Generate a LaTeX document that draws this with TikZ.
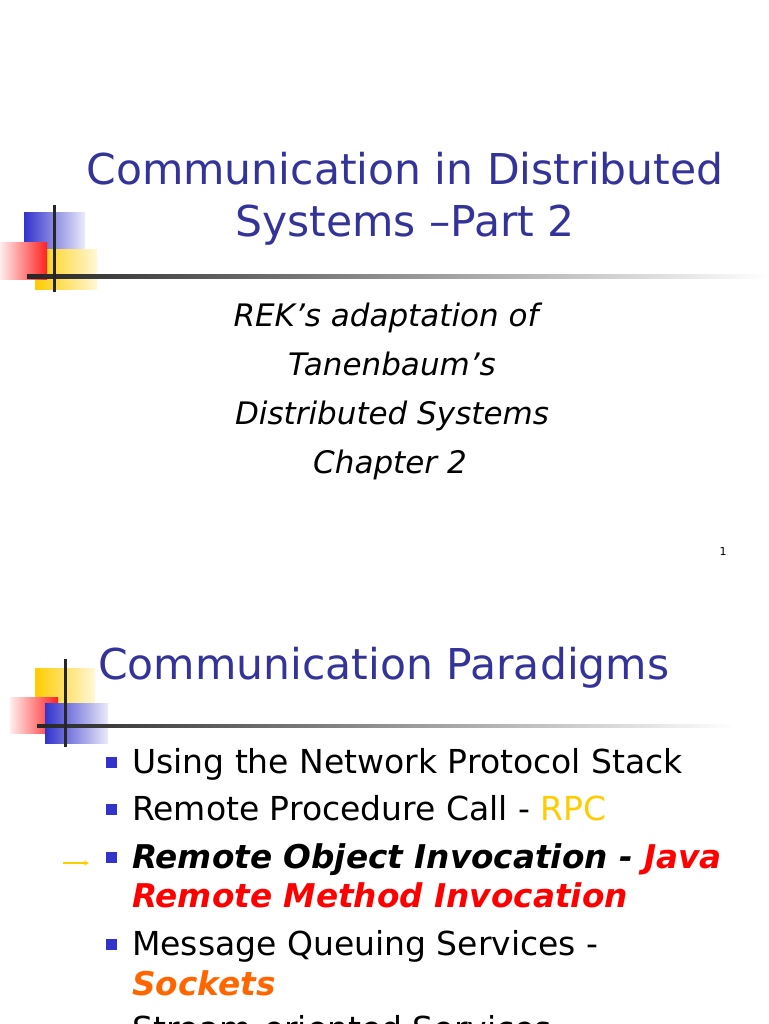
\documentclass[tikz,border=0pt]{standalone}
\usepackage{fontspec}
\setmainfont{DejaVu Sans}
\begin{document}
\begin{tikzpicture}[x=1pt,y=-1pt,
  ttl/.style={text=titleblue,font=\fontsize{42.5}{52}\selectfont,align=center},
  sub/.style={font=\fontsize{31}{36}\selectfont\itshape,anchor=base},
  itm/.style={font=\fontsize{33}{38}\selectfont,anchor=base west,inner sep=0pt},
  bitm/.style={itm,font=\fontsize{32.7}{38}\selectfont\bfseries\itshape},
  bul/.style={fill=bulblue,minimum size=11,inner sep=0pt}]
\definecolor{titleblue}{HTML}{333399}
\definecolor{bulblue}{HTML}{3333CC}
\definecolor{sqblue}{HTML}{3333CC}
\definecolor{sqyel}{HTML}{FFCC00}
\definecolor{sqred}{HTML}{FF2020}
\definecolor{orng}{HTML}{FF6600}
\definecolor{rpcy}{HTML}{FFCC00}
\useasboundingbox (0,0) rectangle (768,1024);
\fill[white] (0,0) rectangle (768,1024);
% slide 1 decoration
\shade[left color=sqblue,right color=sqblue!10] (24,213) rectangle (85,263);
\shade[left color=sqyel,right color=sqyel!15] (35,249) rectangle (97,289);
\shade[right color=sqred,left color=sqred!8] (0,242) rectangle (47,279);
\shade[left color=black!85,right color=white] (27,274) rectangle (768,278);
\draw[line width=3,black!85] (54,205) -- (54,292);
% slide 1 text
\node[ttl] (t1) at (405,199) {Communication in Distributed\\Systems –Part 2};
\node[sub] (s1) at (386,326) {REK’s adaptation of};
\node[sub] (s2) at (392,375) {Tanenbaum’s};
\node[sub] (s3) at (392,424) {Distributed Systems};
\node[sub] (s4) at (390,473) {Chapter 2};
\node[font=\fontsize{11}{13}\selectfont] (pg) at (723,551) {1};
% slide 2 decoration
\shade[left color=sqyel,right color=sqyel!15] (35,668) rectangle (95,705);
\shade[right color=sqred,left color=sqred!8] (10,697) rectangle (58,733);
\shade[left color=sqblue,right color=sqblue!10] (45,703) rectangle (108,743);
\shade[left color=black!85,right color=white] (37,724.5) rectangle (735,727.5);
\draw[line width=3,black!85] (65,659) -- (65,747);
\node[ttl,anchor=base west,inner sep=0pt] (t2) at (98,679) {Communication Paradigms};
% bullets
\node[bul] (b1) at (111,762) {};
\node[itm] (i1) at (132,773) {Using the Network Protocol Stack};
\node[bul] (b2) at (111,809) {};
\node[itm] (i2) at (132,820) {Remote Procedure Call - \textcolor{rpcy}{RPC}};
\node[bul] (b3) at (111,857) {};
\node[bitm] (i3) at (132,868) {Remote Object Invocation - \textcolor{red}{Java}};
\node[bitm,text=red] (i3b) at (132,907) {Remote Method Invocation};
\node[bul] (b4) at (111,944) {};
\node[itm] (i4) at (132,955) {Message Queuing Services -};
\node[bitm,text=orng] (i4b) at (132,995) {Sockets};
\node[bul] (b5) at (111,1029) {};
\node[itm] (i5) at (132,1040) {Stream-oriented Services};
\coordinate (a0) at (63,863);
\draw[-stealth,sqyel,line width=1.2] (a0) -- ++(26,0);
\end{tikzpicture}
\end{document}
